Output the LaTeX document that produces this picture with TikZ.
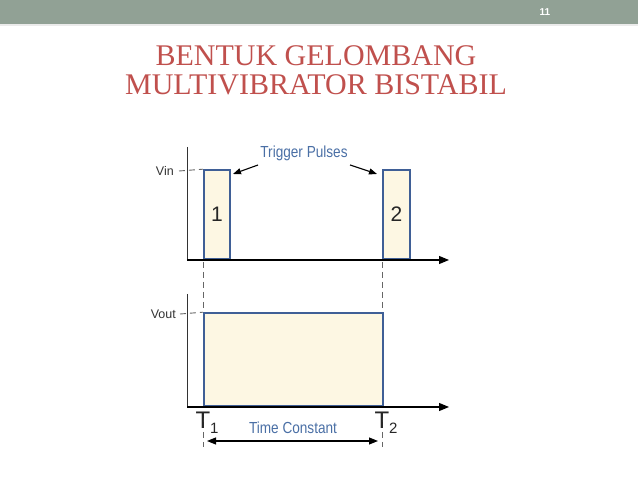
\documentclass[tikz,border=0pt]{standalone}
\usepackage{fontspec}
\setmainfont{Liberation Serif}
\setsansfont{Liberation Sans}
\newfontfamily\titlefont{Liberation Serif}
\usetikzlibrary{arrows.meta}
\definecolor{barcol}{HTML}{91A195}
\definecolor{titlered}{HTML}{C0504D}
\definecolor{pulseblue}{HTML}{3F5F96}
\definecolor{labelblue}{HTML}{4A6FA5}
\definecolor{cream}{HTML}{FDF7E3}
\tikzset{
  axis/.style={line width=1.1pt, -{Triangle[length=10pt,width=8pt]}},
  yaxisline/.style={line width=0.8pt, draw=black!80},
  pulse/.style={draw=pulseblue, fill=cream, line width=1.8pt},
  guide/.style={draw=black!60, line width=0.9pt, dash pattern=on 6pt off 4pt},
  lbl/.style={font=\sffamily\fontsize{12.5}{14}\selectfont, text=black!80, inner sep=1pt},
  bluelbl/.style={font=\sffamily\fontsize{16}{18}\selectfont, text=labelblue, xscale=0.85, inner sep=0pt},
  ptr/.style={line width=1.1pt, -{Triangle[length=8pt,width=6pt]}},
  tlbl/.style={font=\sffamily\fontsize{24}{26}\selectfont, text=black!85, inner sep=0pt},
}
\begin{document}
\begin{tikzpicture}[x=1pt,y=-1pt]
\useasboundingbox (0,0) rectangle (638,478);
% top bar
\fill[barcol] (0,0) rectangle (638,24);
\fill[black!8] (0,24) rectangle (638,26);
\node[font=\sffamily\bfseries\fontsize{10}{11}\selectfont, text=white] (pg) at (545,12) {11};
% title
\node[font=\titlefont\fontsize{30}{32}\selectfont, text=titlered, align=center] (title) at (316,70)
  {BENTUK GELOMBANG\\[-3pt]MULTIVIBRATOR BISTABIL};

% guides
\draw[guide] (203,262) -- (203,447);
\draw[guide] (382,262) -- (382,447);

% upper chart
\coordinate (o1) at (187,260);
\coordinate (yt1) at (187,147);
\coordinate (xe1) at (449,260);
\node[pulse, minimum width=26pt, minimum height=89pt, anchor=south west, inner sep=0pt] (p1) at (203,260) {};
\node[pulse, minimum width=27pt, minimum height=89pt, anchor=south west, inner sep=0pt] (p2) at (382,260) {};
\node[font=\sffamily\fontsize{21}{23}\selectfont, text=black!85] (n1) at (p1.center) {1};
\node[font=\sffamily\fontsize{21}{23}\selectfont, text=black!85] (n2) at (p2.center) {2};
\draw[yaxisline] (yt1) -- (o1);
\draw[axis] (o1) -- (xe1);
\node[lbl, anchor=east] (vin) at (175,171) {Vin};
\draw[guide] (179,171) -- (p1.north west);
\node[bluelbl] (trig) at (304,153) {Trigger Pulses};
\coordinate (a1s) at (258,165);
\coordinate (a2s) at (350,165);
\draw[ptr] (a1s) -- (233,174);
\draw[ptr] (a2s) -- (377,174);

% lower chart
\coordinate (o2) at (187,407);
\coordinate (yt2) at (187,294);
\coordinate (xe2) at (449,407);
\node[pulse, minimum width=179pt, minimum height=93pt, anchor=south west, inner sep=0pt] (out) at (203,407) {};
\draw[yaxisline] (yt2) -- (o2);
\draw[axis] (o2) -- (xe2);
\node[lbl, anchor=east] (vout) at (177,314) {Vout};
\draw[guide] (180,314) -- (out.north west);

% time labels
\node[tlbl] (t1) at (207,423) {T\raisebox{-5pt}{\fontsize{15}{17}\selectfont 1}};
\node[tlbl] (t2) at (386,423) {T\raisebox{-5pt}{\fontsize{15}{17}\selectfont 2}};
\node[bluelbl] (tc) at (293,428) {Time Constant};
\coordinate (tcl) at (207,441);
\coordinate (tcr) at (378,441);
\draw[line width=1.1pt, {Triangle[length=9pt,width=7pt]}-{Triangle[length=9pt,width=7pt]}] (tcl) -- (tcr);
\end{tikzpicture}
\end{document}
